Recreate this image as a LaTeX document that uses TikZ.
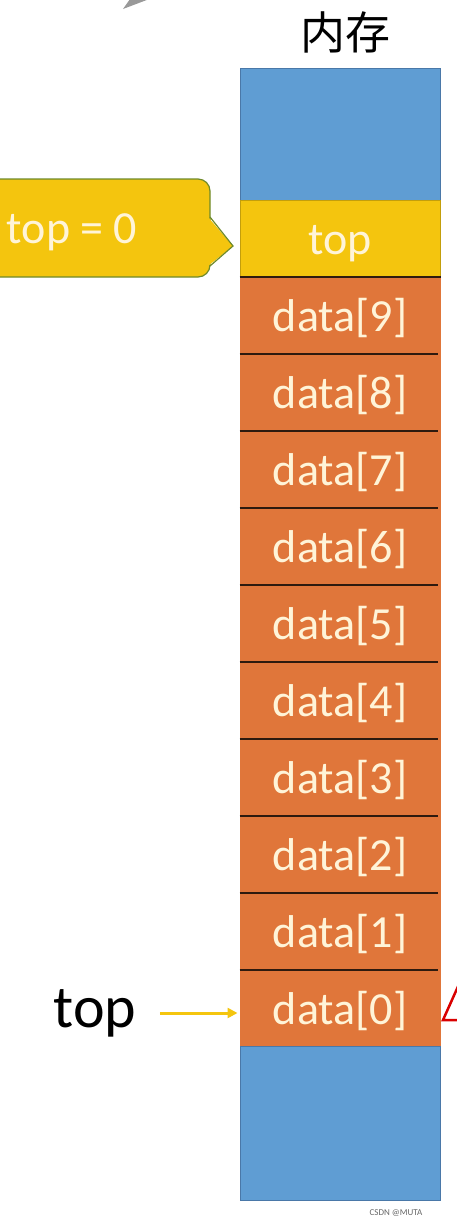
\documentclass[tikz,border=0pt]{standalone}
\usepackage{fontspec}
\setmainfont{Carlito}
\newfontfamily\cjk{Noto Sans CJK SC}
\usetikzlibrary{arrows.meta,matrix,positioning}
\definecolor{memblue}{HTML}{5F9DD3}
\definecolor{memedge}{HTML}{4A78A8}
\definecolor{slotfill}{HTML}{E0763A}
\definecolor{ptrfill}{HTML}{F4C50E}
\definecolor{celltext}{HTML}{FFF4D8}
\definecolor{bubedge}{HTML}{6E8A2A}
\definecolor{seprule}{HTML}{2E1A0E}
\tikzset{
  cell/.style={minimum width=200pt,inner sep=0pt,text=celltext,
               text height=38pt,text depth=6pt,
               font=\fontsize{46}{46}\selectfont},
  free/.style={fill=memblue,draw=memedge,line width=1pt},
  ptr/.style={fill=ptrfill,draw=ptrfill!80!black,line width=1pt},
  slot/.style={fill=slotfill,draw=slotfill,line width=1pt,minimum height=77pt},
  seprule/.style={draw=seprule,line width=1.8pt},
}

\begin{document}
\begin{tikzpicture}[x=1pt,y=-1pt]
  \useasboundingbox (0,0) rectangle (457,1227);
%
  \matrix[matrix of nodes,nodes in empty cells,row sep=-1pt,inner sep=0pt,
          nodes={cell},anchor=north] (m) at (340,68) {
%
  |[free,minimum height=132pt,name=mhi]| \\
  |[ptr,minimum height=76pt,name=mtop]| top \\
  |[slot,name=m9]| data[9] \\
  |[slot,name=m8]| data[8] \\
  |[slot,name=m7]| data[7] \\
  |[slot,name=m6]| data[6] \\
  |[slot,name=m5]| data[5] \\
  |[slot,name=m4]| data[4] \\
  |[slot,name=m3]| data[3] \\
  |[slot,name=m2]| data[2] \\
  |[slot,name=m1]| data[1] \\
  |[slot,name=m0]| data[0] \\
  |[free,minimum height=154pt,name=mlo]| \\
%
  } ;
%
  \draw [seprule] (mtop.south west) -- (mtop.south east) ;
  \foreach \i in {9,...,1}
    \draw [seprule] (m\i.south west) -- ([xshift=-3pt]m\i.south east) ;
%
  \node [font=\cjk\fontsize{45}{45}\selectfont] (title) at (345,32) {内存} ;
%
  \draw [fill=ptrfill,draw=bubedge,line width=1.2pt,rounded corners=12pt]
    (-20,179) rectangle (210,277) ;
  \fill [ptrfill] (208,217) -- (233,246) -- (208,266) -- cycle ;
  \draw [bubedge,line width=1.2pt] (210,217) -- (233,246) -- (210,266) ;
  \node [text=celltext,font=\fontsize{46}{46}\selectfont] (bubtxt) at (72,232) {top = 0} ;
%
  \node [font=\fontsize{60}{60}\selectfont] (toplbl) at (95,1013) {top} ;
  \draw [-{Triangle[length=10pt,width=10pt]},draw=ptrfill,fill=ptrfill,line width=3pt,
         shorten <=20pt,shorten >=2pt] (toplbl.east) -- (toplbl.east -| m0.west) ;
%
  \fill [gray!80] (123,9) -- (152,-2) -- (135,-8) -- cycle ;
  \draw [red!85!black,line width=2.5pt] (460,982) -- (443,1020) -- (460,1020) ;
%
  \node [text=gray!80!black,font=\fontsize{9}{9}\selectfont] (mark) at (396,1213) {CSDN @MUTA} ;
\end{tikzpicture}
\end{document}
